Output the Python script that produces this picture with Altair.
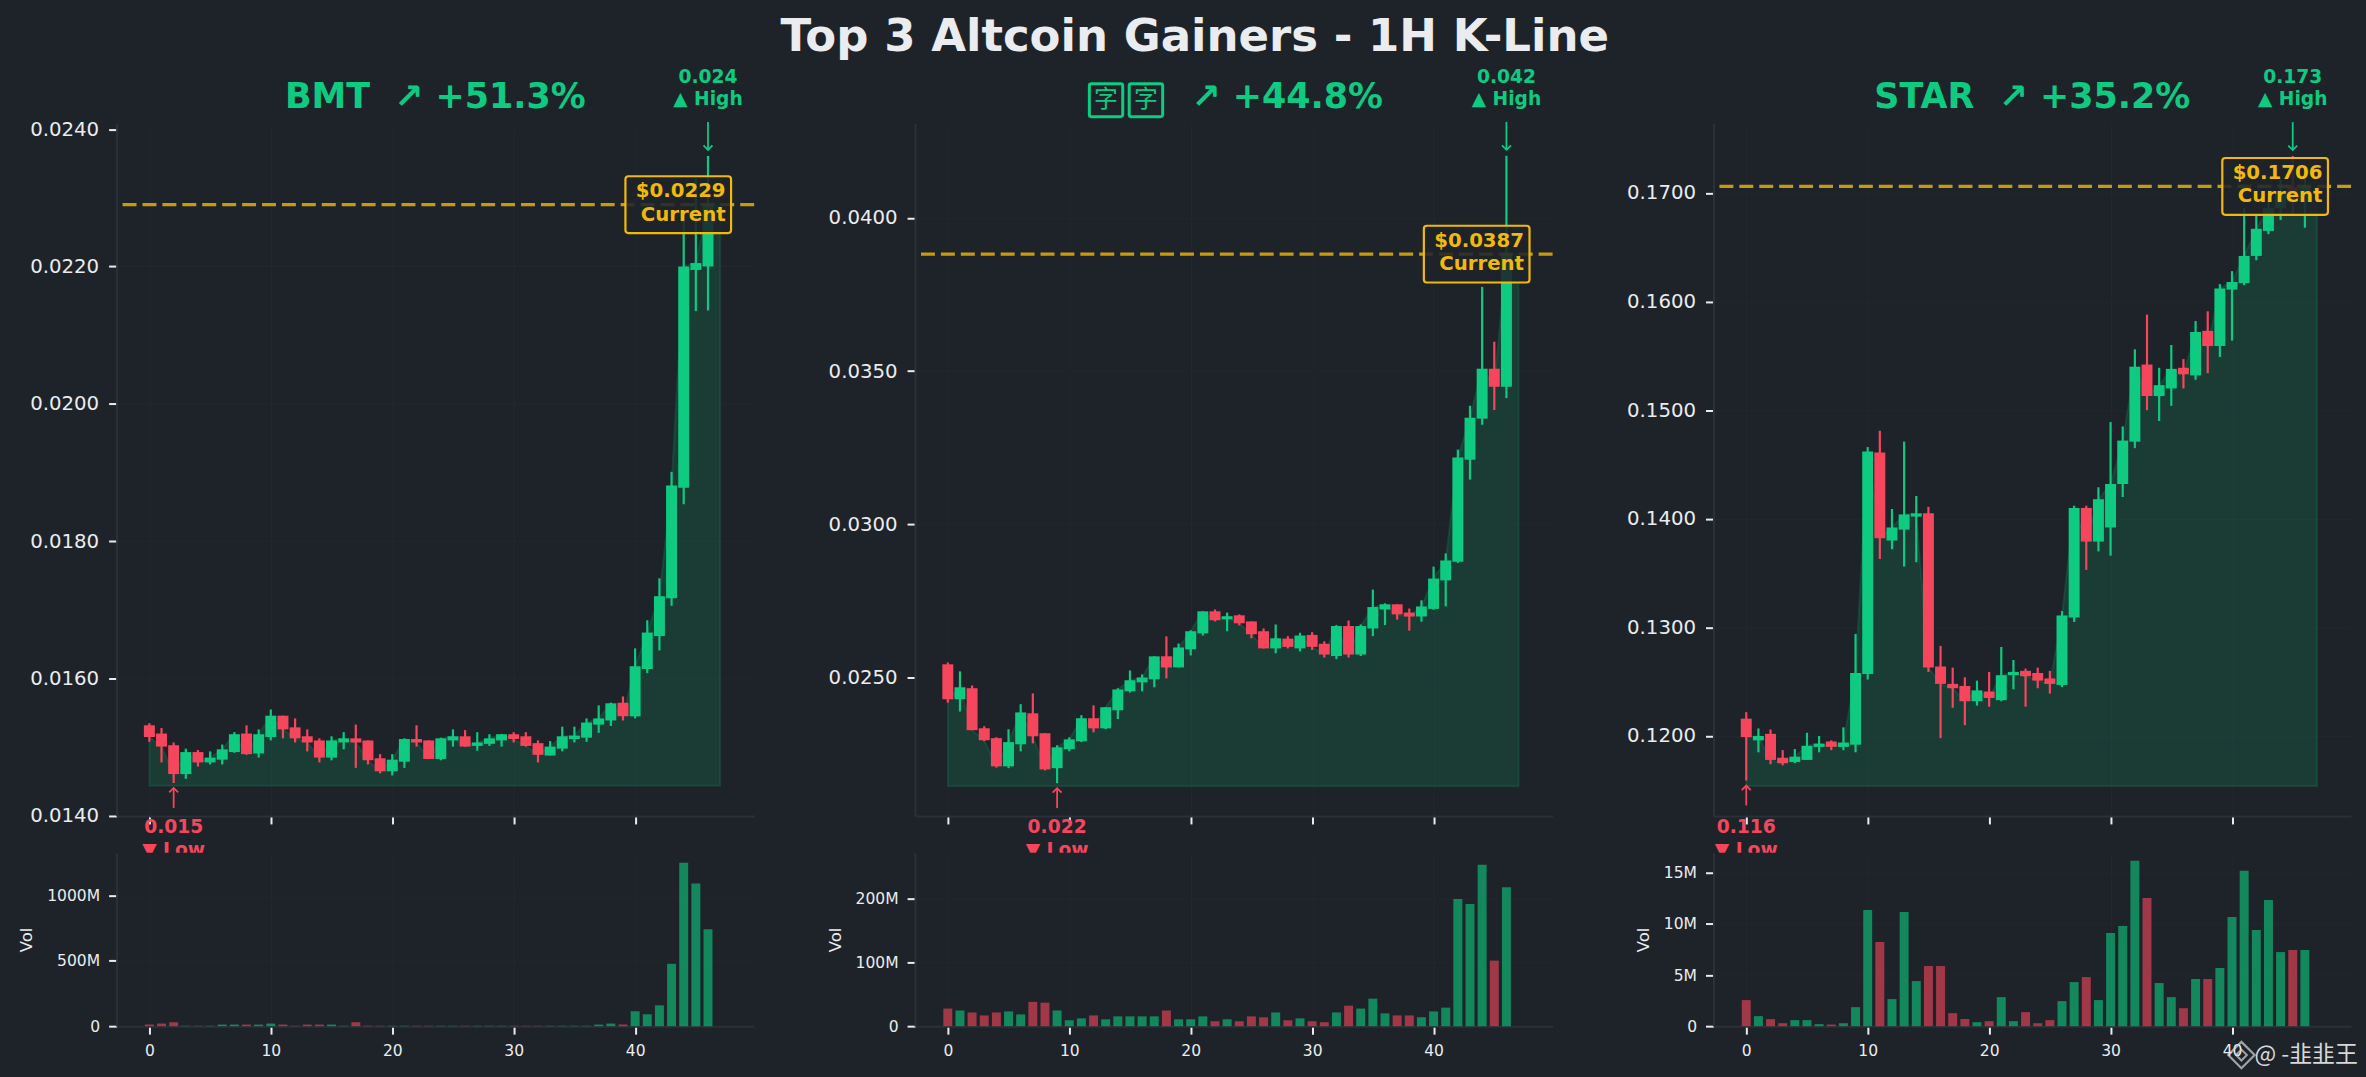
import altair as alt
import pandas as pd

BG = "#1e2329"
GREEN = "#0ecb81"
RED = "#f6465d"
GOLD = "#f0b90b"
WHITE = "#eaecef"
SPINE = "#2b3139"
FONT = "DejaVu Sans"

# ---- BMT (prices in 1e-5) ----
bmt_open = [1532,1520,1503,1461,1493,1478,1482,1493,1520,1491,1515,1546,1529,1516,1510,1485,1507,1513,1510,1484,1465,1479,1512,1510,1483,1510,1516,1502,1505,1510,1519,1516,1506,1488,1498,1512,1514,1533,1539,1565,1545,1614,1662,1717,1878,2195,2200]
bmt_close = [1515,1501,1461,1493,1478,1485,1497,1519,1490,1519,1546,1526,1513,1507,1485,1510,1513,1507,1481,1465,1482,1512,1507,1483,1513,1516,1501,1507,1513,1519,1512,1502,1489,1501,1516,1517,1536,1542,1564,1545,1618,1667,1720,1881,2200,2205,2290]
bmt_high = [1535,1528,1507,1498,1496,1494,1504,1522,1532,1526,1555,1546,1542,1526,1513,1516,1522,1533,1510,1490,1490,1513,1532,1510,1514,1526,1525,1522,1519,1519,1522,1522,1510,1509,1530,1530,1542,1561,1565,1574,1644,1685,1746,1901,2273,2328,2361]
bmt_low = [1508,1478,1448,1454,1472,1475,1475,1492,1489,1485,1510,1513,1507,1494,1478,1481,1497,1470,1475,1462,1459,1470,1501,1483,1481,1501,1501,1495,1502,1501,1507,1501,1478,1488,1494,1507,1508,1521,1531,1539,1542,1608,1641,1706,1854,2135,2136]
bmt_vol = [12,20,30,3,3,3,12,12,12,12,20,12,3,12,12,12,3,30,3,3,3,3,3,3,3,3,3,3,3,3,3,3,3,3,3,3,3,12,20,12,114,91,159,477,1250,1091,742]

# ---- second coin (prices in 1e-5) ----
coin_open = [2543,2429,2465,2334,2302,2210,2282,2383,2318,2204,2266,2292,2367,2334,2393,2455,2484,2494,2569,2533,2592,2644,2716,2690,2703,2683,2651,2595,2627,2595,2639,2610,2570,2668,2575,2660,2722,2739,2712,2699,2724,2817,2878,3211,3345,3508,3449]
coin_close = [2429,2468,2328,2295,2210,2289,2386,2308,2200,2272,2298,2367,2334,2403,2461,2491,2500,2569,2533,2598,2651,2716,2687,2700,2677,2641,2595,2628,2600,2637,2600,2575,2668,2575,2668,2730,2739,2706,2699,2732,2823,2882,3218,3348,3508,3449,3882]
coin_high = [2549,2520,2474,2341,2305,2331,2413,2448,2318,2279,2305,2377,2409,2403,2465,2523,2510,2569,2634,2611,2654,2716,2722,2712,2706,2683,2660,2673,2635,2646,2648,2618,2671,2686,2673,2787,2742,2739,2725,2752,2862,2905,3244,3387,3775,3596,4203]
coin_low = [2418,2389,2328,2292,2206,2204,2259,2285,2197,2155,2259,2289,2321,2331,2364,2451,2455,2468,2497,2533,2572,2637,2683,2651,2670,2628,2595,2579,2595,2585,2590,2565,2560,2565,2570,2635,2671,2689,2653,2682,2721,2732,2874,3146,3325,3373,3412]
coin_vol = [27.5,24.5,21.4,16.8,21.4,23,18.4,38,36.7,24.5,9.2,12.2,16.8,10.7,15.3,15.3,15.3,15.3,24.5,10.7,10.7,15.3,7.7,10.7,7.7,15.3,13.8,21.4,9.2,12.2,7.7,6.1,21.4,32,27.5,43,20,16.8,16.8,13.8,23,29,199,191,252.5,102.5,217]

# ---- STAR (prices in 1e-4) ----
star_open = [1216,1196,1202,1180,1176,1178,1190,1195,1190,1192,1257,1461,1380,1390,1402,1405,1264,1248,1246,1232,1241,1233,1256,1260,1258,1253,1247,1309,1410,1379,1392,1432,1471,1542,1513,1520,1539,1532,1573,1559,1611,1617,1642,1665,1686,1705,1692]
star_close = [1199,1200,1178,1175,1181,1191,1193,1190,1194,1258,1462,1382,1392,1404,1405,1263,1248,1244,1232,1242,1235,1256,1259,1255,1251,1248,1311,1410,1379,1418,1432,1472,1540,1513,1523,1538,1533,1572,1559,1612,1618,1642,1667,1686,1701,1692,1706]
star_high = [1222,1207,1206,1187,1188,1203,1200,1196,1208,1294,1466,1481,1409,1471,1421,1411,1283,1263,1254,1251,1259,1282,1270,1262,1263,1260,1315,1412,1412,1429,1489,1485,1556,1588,1539,1560,1547,1582,1591,1616,1628,1686,1680,1695,1712,1734,1715]
star_low = [1159,1185,1174,1173,1175,1178,1185,1187,1187,1185,1252,1363,1372,1356,1360,1259,1198,1226,1210,1228,1227,1232,1243,1227,1244,1239,1245,1305,1353,1370,1366,1420,1465,1500,1490,1504,1520,1528,1534,1549,1564,1615,1638,1662,1675,1680,1668]
star_vol = [2.55,0.98,0.69,0.29,0.59,0.59,0.2,0.16,0.29,1.86,11.37,8.24,2.65,11.18,4.41,5.88,5.88,1.27,0.69,0.39,0.49,2.84,0.49,1.37,0.29,0.59,2.45,4.31,4.8,2.55,9.12,9.8,16.18,12.55,4.22,2.84,1.76,4.61,4.61,5.69,10.69,15.2,9.41,12.35,7.25,7.45,7.45]

x_ticks = [0, 10, 20, 30, 40]
PW, MH, VH = 640, 695, 174
XDOM = [-2.7, 49.8]
color_scale = alt.Scale(domain=["up", "down"], range=[GREEN, RED])


def panel(unit, o, c, h, l, vol, domain, ticks, fmt, base, current, cur_txt, hi_i, hi_txt, lo_i, lo_txt,
          vol_top, vol_ticks, title_marks, extra_vol=None, lo_shift=0):
    n = len(o)
    df = pd.DataFrame({
        "x": range(n),
        "open": [v * unit for v in o], "close": [v * unit for v in c],
        "high": [v * unit for v in h], "low": [v * unit for v in l],
        "vol": vol,
        "dir": ["up" if b >= a else "down" for a, b in zip(o, c)],
    })
    area = pd.DataFrame({"x": list(range(n + 1)),
                         "close": [v * unit for v in c] + [c[-1] * unit],
                         "base": base})
    xscale = alt.Scale(domain=XDOM, nice=False, zero=False, padding=0)
    yscale = alt.Scale(domain=domain, nice=False, zero=False, padding=0)
    xaxis = alt.Axis(values=x_ticks, labels=False, title=None, tickColor=WHITE, tickSize=8, tickWidth=2,
                     domainColor=SPINE, domainWidth=2, grid=True, gridColor=SPINE, gridOpacity=0.3)
    yaxis = alt.Axis(values=ticks, format=fmt, title=None, tickColor=WHITE, tickSize=8, tickWidth=2,
                     domainColor=SPINE, domainWidth=2, grid=True, gridColor=SPINE, gridOpacity=0.3,
                     labelColor=WHITE, labelFont=FONT, labelFontSize=19.8, labelPadding=10)
    X = alt.X("x:Q", scale=xscale, axis=xaxis)
    def Y(f):
        return alt.Y(f"{f}:Q", scale=yscale, axis=yaxis)

    col = alt.Color("dir:N", scale=color_scale, legend=None)
    layers = [
        alt.Chart(area).mark_area(fill=GREEN, fillOpacity=0.15, stroke=GREEN, strokeOpacity=0.15, strokeWidth=2)
            .encode(x=X, y=Y("close"), y2=alt.Y2("base:Q")),
        alt.Chart(df).mark_rule(strokeWidth=2.2).encode(x=X, y=Y("high"), y2=alt.Y2("low:Q"), color=col),
        alt.Chart(df).mark_bar(size=11).encode(x=X, y=Y("open"), y2=alt.Y2("close:Q"), color=col),
    ]
    cur = pd.DataFrame({"current": [current], "xl": [39.2], "xr": [47.9]})
    layers.append(alt.Chart(cur).mark_rule(color=GOLD, opacity=0.8, strokeWidth=3.3, strokeDash=[14, 6])
                  .encode(y=Y("current")))
    hi = pd.DataFrame({"x": [hi_i], "high": [h[hi_i] * unit]})
    lo = pd.DataFrame({"x": [lo_i], "low": [l[lo_i] * unit]})
    layers += [
        alt.Chart(hi).mark_rule(color=GREEN, strokeWidth=1.8, yOffset=-6, y2Offset=-34)
            .encode(x=X, y=Y("high"), y2=alt.Y2("high:Q")),
        alt.Chart(hi).mark_point(shape="M-1,-1L0,0L1,-1", filled=False, size=81, color=GREEN, strokeWidth=1.8,
                                 opacity=1, yOffset=-6).encode(x=X, y=Y("high")),
        alt.Chart(hi).mark_text(text=hi_txt, color=GREEN, font=FONT, fontWeight="bold", fontSize=18.75, dy=-79.5)
            .encode(x=X, y=Y("high")),
        alt.Chart(hi).mark_text(text="▲ High", color=GREEN, font=FONT, fontWeight="bold", fontSize=18.75, dy=-57)
            .encode(x=X, y=Y("high")),
        alt.Chart(lo).mark_rule(color=RED, strokeWidth=1.8, yOffset=5, y2Offset=25)
            .encode(x=X, y=Y("low"), y2=alt.Y2("low:Q")),
        alt.Chart(lo).mark_point(shape="M-1,1L0,0L1,1", filled=False, size=81, color=RED, strokeWidth=1.8,
                                 opacity=1, yOffset=5).encode(x=X, y=Y("low")),
        alt.Chart(lo).mark_text(text=lo_txt, color=RED, font=FONT, fontWeight="bold", fontSize=18.75, dy=44 + lo_shift)
            .encode(x=X, y=Y("low")),
        alt.Chart(lo).mark_text(text="▼ Low", color=RED, font=FONT, fontWeight="bold", fontSize=18.75, dy=67 + lo_shift)
            .encode(x=X, y=Y("low")),
        alt.Chart(cur).mark_rect(fill=BG, fillOpacity=0.88, stroke=GOLD, strokeWidth=2.2, cornerRadius=3,
                                 yOffset=-28.5, y2Offset=28.5)
            .encode(x=alt.X("xl:Q", scale=xscale, axis=xaxis), x2=alt.X2("xr:Q"), y=Y("current"), y2=alt.Y2("current:Q")),
        alt.Chart(cur).mark_text(text=cur_txt, color=GOLD, font=FONT, fontWeight="bold", fontSize=19.8, align="right",
                                 dx=-5.5, dy=-13.5)
            .encode(x=alt.X("xr:Q", scale=xscale, axis=xaxis), y=Y("current")),
        alt.Chart(cur).mark_text(text="Current", color=GOLD, font=FONT, fontWeight="bold", fontSize=19.8, align="right",
                                 dx=-5.5, dy=10)
            .encode(x=alt.X("xr:Q", scale=xscale, axis=xaxis), y=Y("current")),
    ]
    layers += title_marks
    main = alt.layer(*layers).properties(width=PW, height=MH, view=alt.ViewConfig(stroke=None))

    vol_x = alt.X("x:Q", scale=xscale,
                  axis=alt.Axis(values=x_ticks, title=None, tickColor=WHITE, tickSize=8, tickWidth=2, domainColor=SPINE,
                                domainWidth=2, grid=True, gridColor=SPINE, gridOpacity=0.3, format="d",
                                labelColor=WHITE, labelFont=FONT, labelFontSize=15.6, labelPadding=9))
    vol_y = alt.Y("vol:Q", scale=alt.Scale(domain=[0, vol_top], nice=False, padding=0),
                  axis=alt.Axis(values=vol_ticks, title="Vol", tickColor=WHITE, tickSize=8, tickWidth=2,
                                domainColor=SPINE, domainWidth=2, grid=True, gridColor=SPINE, gridOpacity=0.3,
                                labelColor=WHITE, labelFont=FONT, labelFontSize=15.6, labelPadding=9,
                                labelExpr="datum.value == 0 ? '0' : datum.value + 'M'",
                                titleColor=WHITE, titleFont=FONT, titleFontSize=16.5, titleFontWeight="normal",
                                titlePadding=12))
    vol_layers = [alt.Chart(df).mark_bar(size=9, opacity=0.6).encode(x=vol_x, y=vol_y, color=col)]
    if extra_vol:
        vol_layers += extra_vol
    volc = alt.layer(*vol_layers).properties(width=PW, height=VH, view=alt.ViewConfig(fill=BG, stroke=None))
    return main, volc


def text_at(text, x, y, **kw):
    args = dict(color=GREEN, font=FONT, fontWeight="bold", fontSize=35, baseline="middle", text=text)
    args.update(kw)
    return alt.Chart(pd.DataFrame({"a": [0]})).mark_text(**args).encode(x=alt.value(x), y=alt.value(y))


def box_at(x1, x2, y1, y2):
    return alt.Chart(pd.DataFrame({"a": [0]})).mark_rect(fillOpacity=0, stroke=GREEN, strokeWidth=3, cornerRadius=2).encode(
        x=alt.value(x1), x2=alt.value(x2), y=alt.value(y1), y2=alt.value(y2))


m1, v1 = panel(1e-5, bmt_open, bmt_close, bmt_high, bmt_low, bmt_vol, [0.0140, 0.02408],
           [0.014, 0.016, 0.018, 0.020, 0.022, 0.024], ".4f", 0.01444, 0.0229, "$0.0229", 46, "0.024", 2, "0.015",
           1326, [0, 500, 1000],
           [text_at("BMT\u00a0\u00a0↗ +51.3%", PW / 2, -27)])
m2, v2 = panel(1e-5, coin_open, coin_close, coin_high, coin_low, coin_vol, [0.02048, 0.04308],
           [0.025, 0.030, 0.035, 0.040], ".4f", 0.02145, 0.03882, "$0.0387", 46, "0.042", 9, "0.022",
           271, [0, 100, 200],
           [box_at(175, 208.5, -40, -7), box_at(215, 248.6, -40, -7),
            text_at("字", 191.7, -23.5, font="Noto Sans CJK SC", fontWeight="normal", fontSize=24),
            text_at("字", 231.8, -23.5, font="Noto Sans CJK SC", fontWeight="normal", fontSize=24),
            text_at("↗ +44.8%", 277.5, -27, align="left")])
m3, v3 = panel(1e-4, star_open, star_close, star_high, star_low, star_vol, [0.11264, 0.17638],
           [0.12, 0.13, 0.14, 0.15, 0.16, 0.17], ".4f", 0.1154, 0.1706, "$0.1706", 45, "0.173", 0, "0.116",
           16.96, [0, 5, 10, 15],
           [text_at("STAR\u00a0\u00a0↗ +35.2%", PW / 2, -27)],
           lo_shift=3,
           extra_vol=[
               alt.Chart(pd.DataFrame({"a": [0]})).mark_point(shape="diamond", filled=False, size=700, color="#d8d8d8",
                                                              strokeWidth=2.2).encode(x=alt.value(530), y=alt.value(203)),
               alt.Chart(pd.DataFrame({"a": [0]})).mark_point(shape="diamond", filled=False, size=120, color="#d8d8d8",
                                                              strokeWidth=2).encode(x=alt.value(530), y=alt.value(203)),
               alt.Chart(pd.DataFrame({"a": [0]})).mark_text(text="@ -韭韭王", color="#d8d8d8", font="Noto Sans CJK SC",
                                                             fontSize=23, align="left", baseline="middle")
               .encode(x=alt.value(543), y=alt.value(203)),
           ])

chart = alt.concat(m1, m2, m3, v1, v2, v3, columns=3, spacing={"row": 37, "column": 161.5}, bounds="flush").properties(
    title=alt.TitleParams("Top 3 Altcoin Gainers - 1H K-Line", color=WHITE, font=FONT, fontSize=45.2, fontWeight="bold",
                          anchor="middle", offset=7, dx=6.5),
    background=BG,
    padding={"left": 10, "top": 5, "right": 0, "bottom": 9},
).configure_view(stroke=None)

chart.save("out.html", embed_options={"renderer": "svg", "actions": False, "defaultStyle": "html,body{background:#1e2329}"})
